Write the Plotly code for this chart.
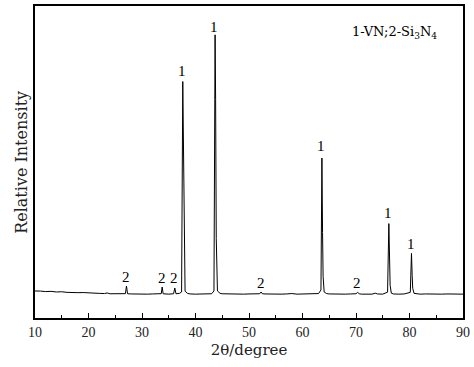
import plotly.graph_objects as go

# XRD pattern (2theta in degrees, intensity in arbitrary counts)
two_theta = [10.0, 10.5, 11.0, 12.0, 13.0, 14.0, 15.0, 16.0, 17.0, 18.0, 19.0, 20.0, 21.0, 22.0,
             23.0, 23.5, 24.0, 25.0, 26.0, 26.9, 27.1, 27.3, 28.0, 29.0, 30.0, 31.0, 32.0, 33.0,
             33.6, 33.77, 33.95, 35.0, 35.9, 36.13, 36.35, 37.0, 37.4, 37.62, 37.72, 37.85, 38.05,
             38.5, 39.0, 40.0, 41.0, 41.5, 42.0, 43.0, 43.45, 43.66, 43.76, 43.88, 44.1, 44.6,
             45.0, 46.0, 47.0, 48.0, 49.0, 50.0, 51.0, 52.0, 52.25, 52.5, 53.0, 54.0, 55.0, 56.0,
             57.0, 58.0, 59.0, 60.0, 61.0, 62.0, 63.0, 63.45, 63.63, 63.75, 63.85, 64.05, 64.5,
             65.0, 66.0, 67.0, 68.0, 69.0, 70.0, 70.3, 70.6, 71.0, 72.0, 73.0, 73.6, 74.0, 75.0,
             75.9, 76.14, 76.28, 76.38, 76.6, 77.0, 78.0, 79.0, 80.15, 80.37, 80.5, 80.6, 80.85,
             81.5, 82.0, 83.0, 84.0, 85.0, 86.0, 87.0, 88.0, 89.0, 90.0]
intensity = [272, 268, 271, 266, 268, 262, 264, 258, 260, 255, 256, 251, 252, 248,
             246, 252, 244, 246, 242, 245, 322, 244, 242, 240, 242, 240, 242, 240,
             245, 312, 244, 240, 244, 302, 244, 248, 262, 2380, 1900, 700, 270,
             248, 242, 240, 242, 248, 242, 244, 272, 2850, 2200, 800, 272, 248,
             244, 242, 240, 242, 240, 242, 240, 244, 262, 244, 242, 240, 242, 240,
             242, 246, 240, 242, 240, 244, 246, 282, 1610, 860, 420, 262, 246,
             242, 240, 242, 240, 242, 244, 258, 244, 240, 242, 240, 250, 242, 240,
             260, 950, 600, 330, 250, 242, 240, 242, 258, 650, 430, 300, 248,
             242, 240, 242, 240, 242, 240, 242, 240, 242, 240]

# peak markers
label_x = [37.5, 43.55, 63.55, 76.05, 80.25, 27.1, 33.75, 36.05, 52.2, 70.25]
label_y = [2490, 2930, 1730, 1060, 740, 410, 400, 400, 350, 350]
label_text = ["1", "1", "1", "1", "1", "2", "2", "2", "2", "2"]

serif = "Liberation Serif, DejaVu Serif, serif"
wide_serif = "DejaVu Serif, Liberation Serif, serif"

fig = go.Figure()
fig.add_trace(go.Scatter(x=two_theta, y=intensity, mode="lines",
                         line=dict(color="black", width=1), showlegend=False))

for x, y, t in zip(label_x, label_y, label_text):
    fig.add_annotation(x=x, y=y, text=t, showarrow=False, xref="x", yref="y",
                       font=dict(family=serif, size=15, color="black"))

fig.add_annotation(x=0.945, y=0.915, xref="paper", yref="paper", xanchor="right", yanchor="middle",
                   text="1-VN;2-Si<sub>3</sub>N<sub>4</sub>", showarrow=False,
                   font=dict(family=wide_serif, size=13, color="black"))

fig.add_annotation(x=-0.06, y=0.5, xref="paper", yref="paper", textangle=-90,
                   text="Relative Intensity", showarrow=False,
                   font=dict(family=wide_serif, size=16, color="#222"))

fig.update_layout(
    width=474, height=367,
    margin=dict(l=35, r=10, t=4, b=49),
    paper_bgcolor="white", plot_bgcolor="white",
    xaxis=dict(range=[10, 90], tickvals=[10, 20, 30, 40, 50, 60, 70, 80, 90],
               ticks="inside", ticklen=5, tickwidth=1.2, tickcolor="black",
               minor=dict(tickvals=[15, 25, 35, 45, 55, 65, 75, 85], ticks="inside",
                          ticklen=3, tickcolor="black", tickwidth=1.2),
               showline=True, linecolor="black", linewidth=1.5, mirror=True,
               showgrid=False, zeroline=False,
               tickfont=dict(family=serif, size=14, color="#222"),
               title=dict(text="2θ/degree", font=dict(family=wide_serif, size=15, color="#222"),
                          standoff=6)),
    yaxis=dict(range=[0, 3140], showticklabels=False, ticks="",
               showline=True, linecolor="black", linewidth=1.5, mirror=True,
               showgrid=False, zeroline=False),
)

fig.write_html("out.html", config={"displayModeBar": False},
               post_script="document.body.style.margin='0';document.body.style.overflow='hidden';")
